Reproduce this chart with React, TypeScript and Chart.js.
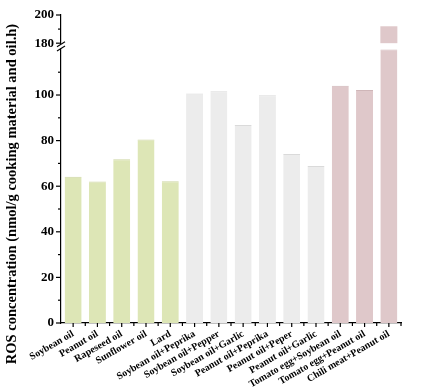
import React, { useEffect, useRef } from 'react';
import { Chart, registerables } from 'chart.js';

Chart.register(...registerables);

const categories = [
  'Soybean oil',
  'Peanut oil',
  'Rapeseed oil',
  'Sunflower oil',
  'Lard',
  'Soybean oil+Peprika',
  'Soybean oil+Pepper',
  'Soybean oil+Garlic',
  'Peanut oil+Peprika',
  'Peanut oil+Peper',
  'Peanut oil+Garlic',
  'Tomato egg+Soybean oil',
  'Tomato egg+Peanut oil',
  'Chili meat+Peanut oil',
];
const rosValues = [64.2, 62.1, 71.8, 80.5, 62.2, 100.7, 101.7, 86.8, 99.9, 74.1, 68.9, 104.1, 102.2, 192];
const groups = ['oil', 'oil', 'oil', 'oil', 'oil', 'mix', 'mix', 'mix', 'mix', 'mix', 'mix', 'dish', 'dish', 'dish'];

const lowerMajorTicks = [0, 20, 40, 60, 80, 100];
const lowerMinorTicks = [10, 30, 50, 70, 90, 110];
const upperMajorTicks = [180, 200];
const upperMinorTicks = [190];
const breakLow = 120;
const breakHigh = 180;
const yTitle = 'ROS concentration (nmol/g cooking material and oil.h)';

const fillColors: Record<string, string> = { oil: '#dde6b6', mix: '#ececec', dish: '#dfc8ca' };
const edgeColors: Record<string, string> = { oil: '#cdd6a4', mix: '#dadada', dish: '#cfb6b8' };

const FONT = '"Liberation Serif", "Times New Roman", serif';

const decorPlugin = {
  id: 'decor',
  afterDraw(chart: any) {
    const ctx = chart.ctx;
    const ca = chart.chartArea;
    const yL = chart.scales.y;
    const yU = chart.scales.y2;
    const xs = chart.scales.x;
    const left = ca.left;
    ctx.save();
    ctx.strokeStyle = '#000';
    ctx.lineWidth = 1.2;
    const hTick = (py: number, len: number) => {
      ctx.beginPath();
      ctx.moveTo(left - len, py);
      ctx.lineTo(left, py);
      ctx.stroke();
    };
    lowerMajorTicks.forEach((v) => hTick(yL.getPixelForValue(v), 5));
    lowerMinorTicks.forEach((v) => hTick(yL.getPixelForValue(v), 3));
    upperMajorTicks.forEach((v) => hTick(yU.getPixelForValue(v), 5));
    upperMinorTicks.forEach((v) => hTick(yU.getPixelForValue(v), 3));

    // x ticks: major at centres, minor at boundaries
    const n = categories.length;
    const step = (ca.right - ca.left) / n;
    const vTick = (px: number, len: number) => {
      ctx.beginPath();
      ctx.moveTo(px, ca.bottom);
      ctx.lineTo(px, ca.bottom + len);
      ctx.stroke();
    };
    for (let i = 0; i < n; i++) vTick(xs.getPixelForValue(i), 4);
    for (let i = 1; i <= n; i++) vTick(ca.left + i * step, 3);

    // axis break
    const pHigh = yU.getPixelForValue(breakHigh);
    const pLow = yL.getPixelForValue(breakLow);
    ctx.fillStyle = '#fff';
    ctx.fillRect(left - 2, pHigh + 0.8, 4, pLow - pHigh - 1.6);
    ctx.lineWidth = 1.1;
    [pHigh + 1, pLow - 1].forEach((py) => {
      ctx.beginPath();
      ctx.moveTo(left - 4, py + 2.5);
      ctx.lineTo(left + 4, py - 2.5);
      ctx.stroke();
    });

    // y title
    ctx.fillStyle = '#000';
    ctx.font = `bold 14.5px ${FONT}`;
    ctx.textAlign = 'center';
    ctx.textBaseline = 'middle';
    ctx.translate(12, 194);
    ctx.rotate(-Math.PI / 2);
    ctx.fillText(yTitle, 0, 0);
    ctx.restore();
  },
};

export default function App() {
  const ref = useRef<HTMLCanvasElement | null>(null);
  useEffect(() => {
    document.body.style.margin = '0';
    const canvas = ref.current;
    if (!canvas) return;
    const lowerData = rosValues.map((v) => Math.min(v, breakLow));
    const upperData = rosValues.map((v) => (v > breakHigh ? [breakHigh, v] : null));
    const bg = groups.map((g) => fillColors[g]);
    const bd = groups.map((g) => edgeColors[g]);
    const yFont = { family: FONT, size: 13, weight: 'bold' };
    const chart = new Chart(canvas, {
      type: 'bar',
      data: {
        labels: categories,
        datasets: [
          {
            data: lowerData,
            yAxisID: 'y',
            backgroundColor: bg,
            borderColor: bd,
            borderWidth: { top: 1, left: 0, right: 0, bottom: 0 },
            borderSkipped: false,
          },
          {
            data: upperData as any,
            yAxisID: 'y2',
            backgroundColor: bg,
            borderColor: bd,
            borderWidth: 0,
          },
        ],
      },
      options: {
        responsive: false,
        animation: false,
        layout: { padding: { top: 15, right: 22, left: 0, bottom: 0 } },
        plugins: { legend: { display: false }, tooltip: { enabled: false } },
        datasets: { bar: { grouped: false, categoryPercentage: 1, barPercentage: 0.7 } } as any,
        scales: {
          x: {
            type: 'category',
            offset: true,
            grid: { display: false, drawTicks: false, offset: true },
            border: { display: true, color: '#000', width: 1.2 },
            ticks: {
              autoSkip: false,
              minRotation: 30,
              maxRotation: 30,
              padding: 5,
              color: '#000',
              font: { family: FONT, size: 10, weight: 'bold' },
            },
            afterFit: (s: any) => {
              s.height = 68;
            },
          },
          y: {
            type: 'linear',
            position: 'left',
            stack: 'yaxis',
            stackWeight: 277,
            min: 0,
            max: 121.5,
            grid: { display: false, drawTicks: false },
            border: { display: true, color: '#000', width: 1.2 },
            ticks: { padding: 7, color: '#000', font: yFont },
            afterBuildTicks: (s: any) => {
              s.ticks = lowerMajorTicks.map((v) => ({ value: v }));
            },
            afterFit: (s: any) => {
              s.width = 61;
            },
          },
          y2: {
            type: 'linear',
            position: 'left',
            stack: 'yaxis',
            stackWeight: 31,
            min: 178,
            max: 200,
            grid: { display: false, drawTicks: false },
            border: { display: true, color: '#000', width: 1.2 },
            ticks: { padding: 7, color: '#000', font: yFont },
            afterBuildTicks: (s: any) => {
              s.ticks = upperMajorTicks.map((v) => ({ value: v }));
            },
            afterFit: (s: any) => {
              s.width = 61;
            },
          },
        } as any,
      },
      plugins: [decorPlugin],
    });
    return () => chart.destroy();
  }, []);
  return (
    <div style={{ width: 423, height: 391, background: '#fff' }}>
      <canvas ref={ref} width={423} height={391} style={{ display: 'block', width: 423, height: 391 }} />
    </div>
  );
}
